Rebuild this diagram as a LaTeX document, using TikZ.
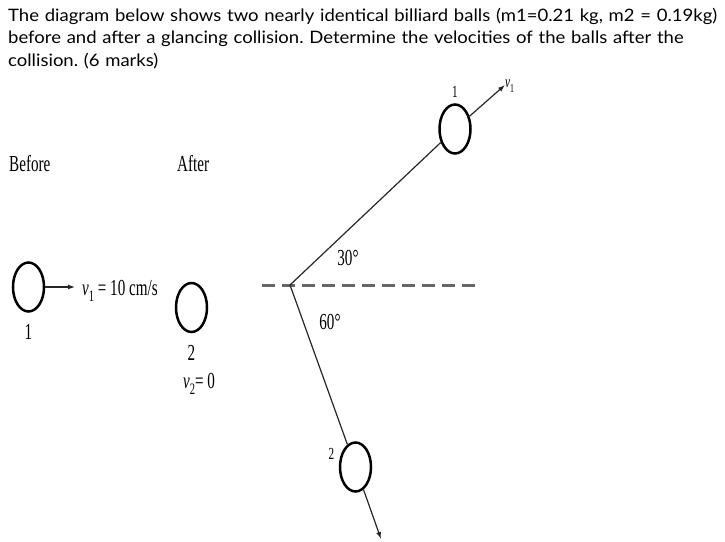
\documentclass[tikz,border=0pt]{standalone}
\usepackage{fontspec}
\setmainfont{Lato}[FakeStretch=1.08]
\newfontfamily\figfont[FakeStretch=0.66]{Liberation Serif}
\usetikzlibrary{positioning,shapes.geometric,arrows.meta}
\newcommand{\vsub}[2]{\textit{v}\raisebox{-0.6ex}{\fontsize{#2}{#2}\selectfont #1}}
\frenchspacing
\begin{document}
\begin{tikzpicture}[
            x=1bp, y=-1bp,
            ball/.style={
                ellipse, draw, line width=2.5bp, minimum width=31bp, minimum height=49bp, inner sep=0pt
            },
            lbl/.style={inner sep=0pt, font=\figfont\fontsize{23}{23}\selectfont},
            smalllbl/.style={inner sep=0pt, font=\figfont\fontsize{17}{17}\selectfont},
            track/.style={draw, line width=1.2bp, black!85},
            tip/.style={-{Latex[length=7bp,width=5bp]}},
            dashline/.style={draw, line width=3bp, black!60, dash pattern=on 13bp off 7bp}
        ]
        \useasboundingbox (0,0) rectangle (725,542);

        \node[anchor=base west, inner sep=0pt, text width=720bp, align=left,
              font=\fontsize{17.2}{22.3}\selectfont] (question) at (8,21.7)
          {The diagram below shows two nearly identical billiard balls (m1=0.21 kg, m2 = 0.19kg)\\
           before and after a glancing collision. Determine the velocities of the balls after the\\
           collision. (6 marks)};

        % before the collision
        \node[lbl, anchor=base west] (before) at (9,172) {Before};
        \node[lbl, anchor=base west] (after) at (177,172) {After};

        \node[ball] (ballone) at (28.5,287) {};
        \node[lbl, below=11bp of ballone] (numone) {1};
        \coordinate (tipone) at (75,287);
        \draw[track, tip] (ballone) -- (tipone);
        \node[lbl, anchor=base west] (velone) at (82,295) {\vsub{1}{16} = 10 cm/s};

        \node[ball] (balltwo) at (191.5,307.5) {};
        \node[lbl, below=12bp of balltwo] (numtwo) {2};
        \node[lbl, anchor=base west] (veltwo) at (183,388) {\vsub{2}{16}= 0};

        % after the collision
        \coordinate (hit) at (290,285);
        \coordinate (dashleft) at (262,285);
        \coordinate (dashright) at (478,285);
        \draw[dashline] (dashleft) -- (dashright);

        \node[ball] (oneafter) at (455,129) {};
        \node[ball] (twoafter) at (355.5,467) {};
        \coordinate (tiponeafter) at (505,85);
        \coordinate (tiptwoafter) at (381,539);
        \draw[track] (hit) -- (oneafter);
        \draw[track, tip] (oneafter) -- (tiponeafter);
        \draw[track] (hit) -- (twoafter);
        \draw[track, tip] (twoafter) -- (tiptwoafter);

        \node[smalllbl, above=6bp of oneafter] (numoneafter) {1};
        \node[smalllbl, anchor=base west] (veloneafter) at (505,88) {\vsub{1}{12}};
        \node[smalllbl] (numtwoafter) at (331.5,454) {2};
        \node[lbl] (angleup) at (348,258) {30°};
        \node[lbl] (angledown) at (330,322) {60°};

    \end{tikzpicture}
\end{document}
